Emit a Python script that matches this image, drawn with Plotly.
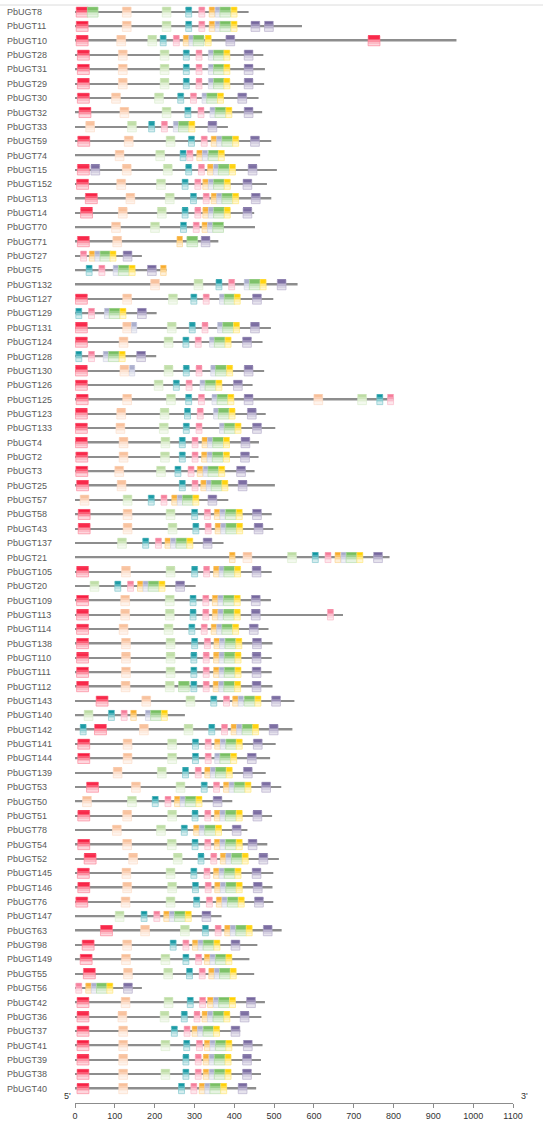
import plotly.graph_objects as go

genes = ["PbUGT8","PbUGT11","PbUGT10","PbUGT28","PbUGT31","PbUGT29","PbUGT30","PbUGT32","PbUGT33","PbUGT59",
         "PbUGT74","PbUGT15","PbUGT152","PbUGT13","PbUGT14","PbUGT70","PbUGT71","PbUGT27","PbUGT5","PbUGT132",
         "PbUGT127","PbUGT129","PbUGT131","PbUGT124","PbUGT128","PbUGT130","PbUGT126","PbUGT125","PbUGT123","PbUGT133",
         "PbUGT4","PbUGT2","PbUGT3","PbUGT25","PbUGT57","PbUGT58","PbUGT43","PbUGT137","PbUGT21","PbUGT105",
         "PbUGT20","PbUGT109","PbUGT113","PbUGT114","PbUGT138","PbUGT110","PbUGT111","PbUGT112","PbUGT143","PbUGT140",
         "PbUGT142","PbUGT141","PbUGT144","PbUGT139","PbUGT53","PbUGT50","PbUGT51","PbUGT78","PbUGT54","PbUGT52",
         "PbUGT145","PbUGT146","PbUGT76","PbUGT147","PbUGT63","PbUGT98","PbUGT149","PbUGT55","PbUGT56","PbUGT42",
         "PbUGT36","PbUGT37","PbUGT41","PbUGT39","PbUGT38","PbUGT40"]

lengths = [436,570,958,473,477,475,461,470,384,493,
           465,507,482,493,450,452,360,168,230,559,
           498,205,492,471,204,475,446,800,479,503,
           462,461,451,502,385,494,498,373,790,494,
           303,492,673,486,496,494,494,496,551,276,
           546,504,490,479,518,395,495,433,483,512,
           498,496,498,368,519,458,438,450,168,477,
           468,415,471,467,467,455]

# motif start positions per gene (same order as genes)
motif_red = [[3],[3],[3,736],[6],[6],[6],[6],[10],[],[7],
             [],[6],[4],[26],[14],[],[6],[],[],[],
             [1],[],[1],[1],[],[1],[1],[3],[1],[1],
             [1],[2],[2],[4],[],[8],[8],[],[],[4],
             [],[4],[4],[4],[4],[4],[4],[4],[53],[],
             [49],[7],[7],[],[29],[],[7],[],[7],[23],
             [6],[7],[2],[],[64],[18],[13],[21],[],[5],
             [5],[5],[5],[5],[5],[5]]
motif_peach = [[119],[119],[105],[109],[109],[109],[92],[113],[27],[124],
               [101],[119],[105],[128],[109],[92],[95],[],[],[190],
               [120],[],[120],[111],[],[113],[],[120,600],[105],[103],
               [111],[111],[100],[106],[13],[121],[121],[],[422],[117],
               [],[115],[115],[111],[117],[117],[117],[116],[168],[],
               [162],[121],[121],[96],[142],[19],[120],[94],[120],[135],
               [118],[120],[116],[],[165],[120],[117],[122],[],[116],
               [108],[110],[110],[110],[110],[110]]
motif_lgreen = [[219],[219],[183],[214],[214],[214],[200],[219],[132],[229],
                [203],[222],[205],[227],[207],[190],[],[],[],[299],
                [235],[],[232],[224],[],[224],[199],[230,710],[214],[212],
                [216],[215],[205],[],[121],[229],[234],[107],[534],[229],
                [38],[227],[227],[224],[229],[229],[229],[227],[279],[23],
                [274],[233],[233],[207],[254],[132],[233],[205],[232],[247],
                [229],[233],[229],[101],[265],[],[216],[223],[],[224],
                [214],[],[216],[],[216],[]]
motif_teal = [[278],[278],[214],[272],[272],[272],[258],[276],[185],[285],
              [264],[278],[269],[290],[269],[265],[],[],[28],[354],
              [291],[2],[287],[271],[2],[272],[247],[278,758],[275],[272],
              [262],[262],[251],[262],[184],[293],[296],[170],[596],[293],
              [100],[289],[289],[286],[293],[291],[291],[291],[341],[84],
              [13,336],[295],[295],[270],[317],[194],[294],[267],[294],[309],
              [291],[295],[298],[166],[320],[239],[271],[280],[],[282],
              [267],[242],[273],[271],[271],[260]]
motif_pink = [[311],[311],[247],[304],[304],[304],[290],[309],[217],[317],
              [281],[310],[301],[322],[301],[297],[],[14],[60],[386],
              [322],[34],[319],[302],[34],[304],[279],[310,785],[307],[304],
              [294],[294],[284],[294],[216],[325],[327],[202],[628],[323],
              [132],[321],[321,634],[317],[325],[322],[322],[322],[373],[116],
              [368],[327],[327],[302],[348],[226],[326],[],[326],[341],
              [324],[327],[330],[198],[352],[271],[303],[312],[2],[313],
              [299],[274],[305],[302],[302],[291]]
motif_orange = [[337],[337],[272],[],[],[],[],[],[],[342],
                [306],[333],[321],[342],[321],[319],[256],[36],[215],[],
                [],[],[],[],[],[],[],[],[],[],
                [319],[318],[307],[316],[243],[350],[352],[226],[388,653],[348],
                [157],[345],[345],[342],[349],[348],[348],[347],[396],[140],
                [392],[351],[],[326],[373],[250],[350],[298],[350],[365],
                [348],[351],[355],[223],[376],[295],[325],[336],[27],[333],
                [319],[294],[325],[322],[322],[312]]
motif_lav = [[352],[352],[286],[335],[335],[335],[319],[339],[247],[356],
             [320],[348],[335],[356],[335],[333],[],[50],[96],[425],
             [363],[74],[142,358],[338],[71],[137,341],[314],[344],[348],[363],
             [333],[332],[322],[330],[257],[364],[366],[240],[668],[362],
             [171],[359],[359],[356],[363],[362],[362],[361],[410],[177],
             [406],[365],[351],[340],[387],[264],[364],[312],[364],[379],
             [362],[365],[369],[237],[390],[309],[339],[350],[41],[348],
             [333],[308],[339],[337],[337],[326]]
motif_green = [[31,364],[364],[297],[348],[348],[348],[331],[352],[260],[369],
               [335],[360],[348],[369],[348],[346],[281],[63],[109],[438],
               [375],[86],[371],[350],[84],[353],[327],[357],[360],[375],
               [346],[345],[334],[342],[270],[378],[379],[254],[681],[374],
               [184],[373],[373],[369],[377],[375],[375],[260,374],[425],[190],
               [420],[379],[364],[353],[400],[277],[378],[326],[378],[393],
               [375],[379],[383],[250],[404],[322],[353],[363],[54],[361],
               [347],[322],[353],[350],[350],[339]]
motif_yellow = [[392],[392],[327],[374],[374],[374],[358],[379],[286],[396],
                [360],[388],[375],[396],[375],[],[],[88],[136],[465],
                [400],[113],[398],[377],[111],[381],[354],[384],[387],[402],
                [373],[373],[361],[369],[296],[405],[406],[281],[708],[401],
                [211],[400],[400],[396],[404],[402],[402],[401],[452],[217],
                [446],[405],[391],[380],[427],[304],[405],[353],[405],[420],
                [402],[405],[410],[277],[430],[349],[379],[390],[80],[388],
                [374],[348],[379],[377],[377],[366]]
motif_purple = [[],[442,476],[379],[425],[425],[425],[409],[425],[334],[441],
                [],[40,435],[422],[443],[422],[],[317],[121],[182],[508],
                [446],[157],[441],[421],[155],[425],[398],[425],[433],[446],
                [417],[416],[406],[410],[334],[446],[450],[322],[750],[445],
                [253],[443],[443],[438],[446],[445],[445],[445],[494],[],
                [488],[448],[433],[423],[469],[347],[447],[395],[435],[462],
                [445],[448],[451],[319],[473],[392],[],[],[122],[431],
                [415],[392],[423],[421],[421],[410]]

axis_ticks = list(range(0, 1101, 100))

# (starts, motif length, colour)
motifs = [
    (motif_red, 30, "#F81C40"),
    (motif_peach, 22, "#F8BE98"),
    (motif_lgreen, 22, "#BCDCA2"),
    (motif_teal, 15, "#0F96A0"),
    (motif_pink, 15, "#F57A98"),
    (motif_orange, 14, "#F8AC2C"),
    (motif_lav, 13, "#A6AACA"),
    (motif_green, 27, "#76BE60"),
    (motif_yellow, 15, "#FFD000"),
    (motif_purple, 22, "#75669D"),
]


def mix(hexcol, f):
    r = int(hexcol[1:3], 16); g = int(hexcol[3:5], 16); b = int(hexcol[5:7], 16)
    r = round(r + (255 - r) * f); g = round(g + (255 - g) * f); b = round(b + (255 - b) * f)
    return f"rgb({r},{g},{b})"


n = len(genes)
ypos = list(range(1, n + 1))
H = 0.70
fades = [0.0, 0.06, 0.28, 0.52, 0.70, 0.82]
nb = len(fades)

fig = go.Figure()
# backbone lines
fig.add_trace(go.Bar(orientation="h", y=ypos, x=lengths, base=[0] * n, width=0.11,
                     marker=dict(color="#8d8d8d", line=dict(width=0)), hoverinfo="skip"))

for starts, w, col in motifs:
    ys, bs = [], []
    for i, sl in enumerate(starts):
        for s in sl:
            ys.append(i + 1)
            bs.append(s)
    xs = [w] * len(ys)
    for k, f in enumerate(fades):
        fig.add_trace(go.Bar(orientation="h", y=ys, x=xs, base=bs,
                             width=H / nb + 0.01, offset=-H / 2 + k * H / nb,
                             marker=dict(color=mix(col, f), line=dict(width=0)),
                             hoverinfo="skip"))
    fig.add_trace(go.Bar(orientation="h", y=ys, x=xs, base=bs, width=H, offset=-H / 2,
                         marker=dict(color="rgba(0,0,0,0)", line=dict(width=0.6, color=mix(col, 0.45))),
                         hoverinfo="skip"))

L, R, T, B = 75, 37, 5, 20
W, HT = 550, 1123
pw = W - L - R

annotations = []
for i, g in enumerate(genes):
    annotations.append(dict(x=(5 - L) / pw, xref="paper", y=i + 1, yref="y", text=g,
                            showarrow=False, xanchor="left", yanchor="middle",
                            font=dict(family="Liberation Sans, Arial", size=9, color="#5a5a5a")))
annotations.append(dict(x=0, xref="x", y=0, yref="paper", text="5'", showarrow=False,
                        xanchor="right", yanchor="bottom", xshift=-2,
                        font=dict(family="Liberation Sans, Arial", size=9, color="#333")))
annotations.append(dict(x=1100, xref="x", y=0, yref="paper", text="3'", showarrow=False,
                        xanchor="left", yanchor="bottom", xshift=6,
                        font=dict(family="Liberation Sans, Arial", size=9, color="#333")))

fig.update_layout(
    width=W, height=HT, margin=dict(l=L, r=R, t=T, b=B),
    barmode="overlay", showlegend=False,
    plot_bgcolor="white", paper_bgcolor="white",
    annotations=annotations,
    shapes=[dict(type="line", xref="paper", yref="paper", x0=-L / pw, x1=(543 - L) / pw,
                 y0=1, y1=1, line=dict(color="#dcdcdc", width=1))],
    xaxis=dict(range=[0, 1100], tickvals=axis_ticks, showgrid=False, zeroline=False,
               showline=True, linecolor="#8c8c8c", linewidth=1, ticks="outside", ticklen=4,
               tickcolor="#8c8c8c", tickfont=dict(family="Liberation Sans, Arial", size=9, color="#333"),
               automargin=False, fixedrange=True),
    yaxis=dict(range=[77.0, 0.51], showticklabels=False, showgrid=False, zeroline=False,
               showline=False, automargin=False, fixedrange=True),
)

fig.write_html("out.html", config={"displayModeBar": False},
               post_script="document.body.style.margin='0';document.body.style.overflow='hidden';")
